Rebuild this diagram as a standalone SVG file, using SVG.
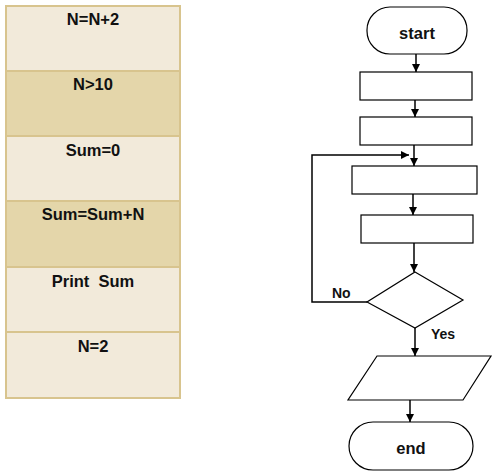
<svg xmlns="http://www.w3.org/2000/svg" width="497" height="475" viewBox="0 0 497 475">
<defs>
<style>
.rl{fill:#F2EADA;stroke:#D8C48E;stroke-width:2}
.rd{fill:#E4D6AA;stroke:#D8C48E;stroke-width:2}
.tt{font-family:"Liberation Sans",Arial,sans-serif;font-weight:bold;font-size:16.5px;fill:#111;text-anchor:middle;white-space:pre}
.sh{fill:#fff;stroke:#000;stroke-width:1.2}
.ln{fill:none;stroke:#000;stroke-width:1.5}
.lb{font-family:"Liberation Sans",Arial,sans-serif;font-weight:bold;font-size:14px;fill:#111}
</style>
<marker id="ah" viewBox="0 0 10 10" refX="10" refY="5" markerWidth="8" markerHeight="8" markerUnits="userSpaceOnUse" orient="auto">
<path d="M0,0 L10,5 L0,10 Z" fill="#000"/>
</marker>
</defs>
<g id="table">
<g id="row1"><rect class="rl" x="6" y="6" width="174" height="65"/><text class="tt" x="93" y="25">N=N+2</text></g>
<g id="row2"><rect class="rd" x="6" y="71" width="174" height="65"/><text class="tt" x="93" y="90">N&gt;10</text></g>
<g id="row3"><rect class="rl" x="6" y="136" width="174" height="65"/><text class="tt" x="93" y="156">Sum=0</text></g>
<g id="row4"><rect class="rd" x="6" y="201" width="174" height="66"/><text class="tt" x="93" y="220">Sum=Sum+N</text></g>
<g id="row5"><rect class="rl" x="6" y="267" width="174" height="65"/><text class="tt" x="93" y="287" xml:space="preserve">Print  Sum</text></g>
<g id="row6"><rect class="rl" x="6" y="332" width="174" height="66"/><text class="tt" x="93" y="352">N=2</text></g>
</g>
<g id="connectors">
<line class="ln" x1="416" y1="54" x2="416" y2="72" marker-end="url(#ah)"/>
<line class="ln" x1="415" y1="100" x2="415" y2="117" marker-end="url(#ah)"/>
<line class="ln" x1="414" y1="145" x2="414" y2="166" marker-end="url(#ah)"/>
<polyline class="ln" points="367,302 312,302 312,155 409,155" marker-end="url(#ah)"/>
<line class="ln" x1="413" y1="194" x2="413" y2="215" marker-end="url(#ah)"/>
<line class="ln" x1="414" y1="243" x2="414" y2="272" marker-end="url(#ah)"/>
<line class="ln" x1="415" y1="328" x2="415" y2="356" marker-end="url(#ah)"/>
<line class="ln" x1="410" y1="400" x2="410" y2="422" marker-end="url(#ah)"/>
<text class="lb" x="332" y="298">No</text>
<text class="lb" x="431" y="339">Yes</text>
</g>
<g id="start"><rect class="sh" x="367" y="7" width="100" height="47" rx="23" ry="23"/><text class="tt" x="417" y="39">start</text></g>
<g id="box1"><rect class="sh" x="360" y="72" width="112" height="28"/></g>
<g id="box2"><rect class="sh" x="360" y="117" width="112" height="28"/></g>
<g id="box3"><rect class="sh" x="352" y="166" width="125" height="28"/></g>
<g id="box4"><rect class="sh" x="361" y="215" width="112" height="28"/></g>
<g id="decision"><polygon class="sh" points="415,272 463,300 415,328 367,302"/></g>
<g id="io"><polygon class="sh" points="377,356 491,356 463,400 348,400"/></g>
<g id="end"><rect class="sh" x="349" y="422" width="124" height="48" rx="24" ry="24"/><text class="tt" x="411" y="454">end</text></g>
</svg>
